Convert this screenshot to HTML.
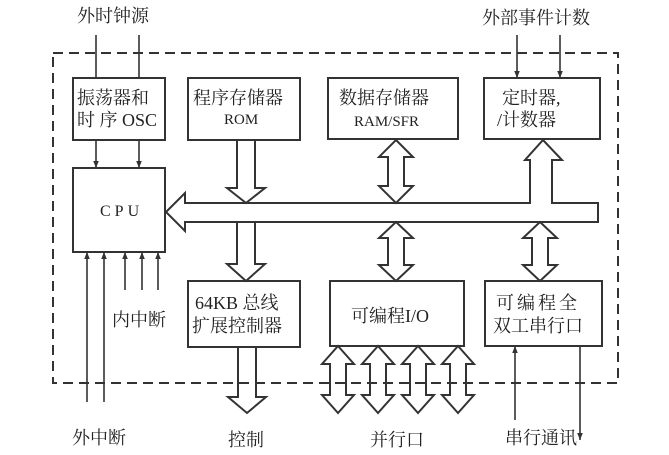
<!DOCTYPE html>
<html><head><meta charset="utf-8"><style>
html,body{margin:0;padding:0;background:#fff;}
svg text{font-family:"Liberation Serif","Noto Serif CJK SC","Noto Sans CJK SC",serif;fill:#222;}
</style></head><body>
<svg width="669" height="450" viewBox="0 0 669 450" xmlns="http://www.w3.org/2000/svg">
<defs>
<marker id="ah" viewBox="0 0 10 10" refX="10" refY="5" markerWidth="7" markerHeight="9" orient="auto" markerUnits="userSpaceOnUse">
<path d="M0,1 L10,5 L0,9 z" fill="#333"/></marker>
</defs>
<g stroke="#333" stroke-width="2" fill="none">
<rect x="73" y="78" width="92" height="62" fill="#fff"/>
<rect x="188" y="78" width="112" height="62" fill="#fff"/>
<rect x="328" y="78" width="130" height="61" fill="#fff"/>
<rect x="484" y="78" width="116" height="61" fill="#fff"/>
<rect x="73" y="168" width="92" height="84" fill="#fff"/>
<rect x="188" y="281" width="112" height="66" fill="#fff"/>
<rect x="330" y="281" width="134" height="65" fill="#fff"/>
<rect x="485" y="281" width="117" height="65" fill="#fff"/>
</g>
<g stroke="#333" stroke-width="2" fill="#fff" stroke-linejoin="miter">
<path d="M166,212 L185,193 L185,203 L530,203 L530,160 L525,160 L543,140 L562,160 L552,160 L552,203 L598,203 L598,222 L185,222 L185,231 Z"/>
<path d="M237,140 L255,140 L255,188 L265,188 L246,203 L227,188 L237,188 Z"/>
<path d="M237,222 L255,222 L255,264 L265,264 L246,281 L227,264 L237,264 Z"/>
<path d="M238,347 L256,347 L256,397 L266,397 L247,413 L228,397 L238,397 Z"/>
<path d="M396,140 L413,157 L404,157 L404,186 L413,186 L396,203 L379,186 L388,186 L388,157 L379,157 Z"/>
<path d="M396,222 L413,238 L404,238 L404,265 L413,265 L396,281 L379,265 L388,265 L388,238 L379,238 Z"/>
<path d="M540,222 L557,238 L548,238 L548,265 L557,265 L540,281 L523,265 L532,265 L532,238 L523,238 Z"/>
<path d="M338,346 L354,364 L346,364 L346,395 L354,395 L338,413 L322,395 L330,395 L330,364 L322,364 Z"/>
<path d="M378,346 L394,364 L386,364 L386,395 L394,395 L378,413 L362,395 L370,395 L370,364 L362,364 Z"/>
<path d="M418,346 L434,364 L426,364 L426,395 L434,395 L418,413 L402,395 L410,395 L410,364 L402,364 Z"/>
<path d="M458,346 L474,364 L466,364 L466,395 L474,395 L458,413 L442,395 L450,395 L450,364 L442,364 Z"/>
</g>
<rect x="53" y="53" width="565" height="330" stroke="#333" stroke-width="2" fill="none" stroke-dasharray="10,6"/>
<g stroke="#333" stroke-width="1.6" fill="none">
<line x1="96" y1="35" x2="96" y2="78"/>
<line x1="139" y1="35" x2="139" y2="78"/>
<line x1="96" y1="140" x2="96" y2="168" marker-end="url(#ah)"/>
<line x1="139" y1="140" x2="139" y2="168" marker-end="url(#ah)"/>
<line x1="517" y1="35" x2="517" y2="78" marker-end="url(#ah)"/>
<line x1="560" y1="35" x2="560" y2="78" marker-end="url(#ah)"/>
<line x1="87" y1="402" x2="87" y2="252" marker-end="url(#ah)"/>
<line x1="104" y1="402" x2="104" y2="252" marker-end="url(#ah)"/>
<line x1="125" y1="290" x2="125" y2="252" marker-end="url(#ah)"/>
<line x1="142" y1="290" x2="142" y2="252" marker-end="url(#ah)"/>
<line x1="158" y1="290" x2="158" y2="252" marker-end="url(#ah)"/>
<line x1="515" y1="420" x2="515" y2="346" marker-end="url(#ah)"/>
<line x1="580" y1="346" x2="580" y2="440" marker-end="url(#ah)"/>
</g>
<g font-size="18">
<text x="77" y="22">外时钟源</text>
<text x="482" y="24">外部事件计数</text>
<text x="77" y="104">振荡器和</text>
<text x="77" y="126">时 序 OSC</text>
<text x="193" y="104">程序存储器</text>
<text x="224" y="124" font-size="15">ROM</text>
<text x="339" y="104">数据存储器</text>
<text x="354" y="126" font-size="15">RAM/SFR</text>
<text x="502" y="104">定时器,</text>
<text x="497" y="126">/计数器</text>
<text x="100" y="216" font-size="16" letter-spacing="4">CPU</text>
<text x="112" y="326">内中断</text>
<text x="195" y="309">64KB  总线</text>
<text x="192" y="332">扩展控制器</text>
<text x="351" y="322">可编程I/O</text>
<text x="496" y="309" letter-spacing="3">可编程全</text>
<text x="493" y="332">双工串行口</text>
<text x="72" y="444">外中断</text>
<text x="228" y="446">控制</text>
<text x="370" y="446">并行口</text>
<text x="505" y="444">串行通讯</text>
</g>
</svg>
</body></html>
